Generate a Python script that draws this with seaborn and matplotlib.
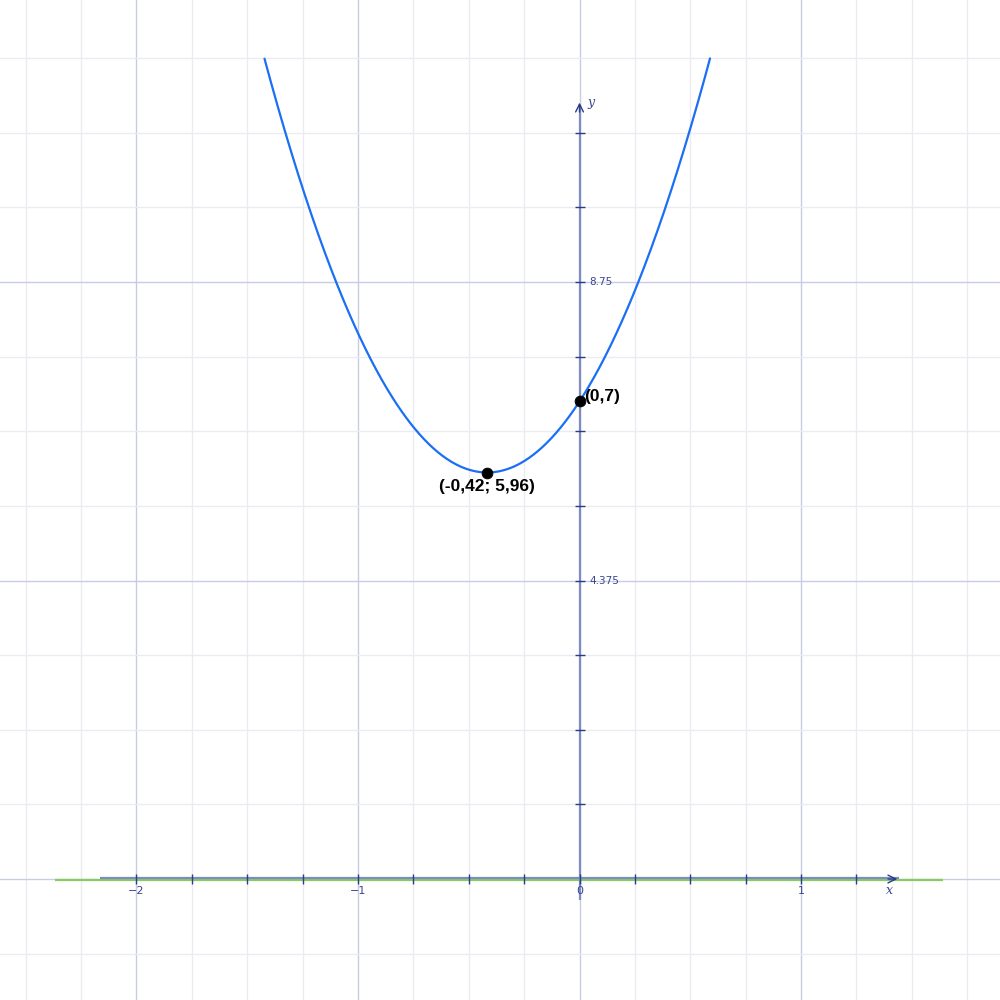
import numpy as np
import pandas as pd
import matplotlib
matplotlib.use("Agg")
import matplotlib.pyplot as plt
import matplotlib.transforms as mtrans
import seaborn as sns

# ---- data ----
coef_a, coef_b, coef_c = 6.0, 5.0, 7.0          # y = 6x^2 + 5x + 7
curve_x_range = [-1.422, 0.589]                   # visible part of the parabola
point_x = [-5/12, 0.0]
point_y = [5.958, 7.0]
point_labels = ["(-0,42; 5,96)", "(0,7)"]
green_x = [-2.368, 1.641]
green_y = [0.0, 0.0]
x_tick_vals = [-2, -1, 0, 1]
x_tick_labels = ["\u22122", "\u22121", "0", "1"]
y_tick_vals = [4.375, 8.75]
y_tick_labels = ["4.375", "8.75"]

xs = np.linspace(curve_x_range[0], curve_x_range[1], 400)
curve = pd.DataFrame({"x": xs, "y": coef_a * xs**2 + coef_b * xs + coef_c})

sns.set_theme(style="white")
fig = plt.figure(figsize=(10, 10), dpi=100)
ax = fig.add_axes([0, 0, 1, 1])
ax.set_xlim(-2.616, 1.898)
ax.set_ylim(-1.773, 12.883)
for s in ax.spines.values():
    s.set_visible(False)
ax.set_xticks([])
ax.set_yticks([])

minor_c = "#ebebf3"
major_c = "#c8cce3"
# grid
for xv in np.arange(-2.75, 2.0, 0.25):
    is_major = abs(xv - round(xv)) < 1e-9
    ax.axvline(xv, color=major_c if is_major else minor_c, lw=1, zorder=0)
ystep = 1.09375
for k in range(-2, 13):
    yv = k * ystep
    ax.axhline(yv, color=major_c if k % 4 == 0 else minor_c, lw=1, zorder=0)

axis_c = "#7d8cc0"
tick_c = "#2b3a8c"
label_c = "#3a4590"
# green line (slightly below axis)
off_down = mtrans.offset_copy(ax.transData, fig=fig, x=0, y=-1.0, units="dots")
ax.plot(green_x, green_y, color="#86cc62", lw=1.6, zorder=2, transform=off_down,
        solid_capstyle="butt")
# axes lines
off_up = mtrans.offset_copy(ax.transData, fig=fig, x=0, y=1.0, units="dots")
ax.plot([-2.165, 1.44], [0, 0], color=axis_c, lw=1.6, zorder=3, transform=off_up,
        solid_capstyle="butt")
ax.annotate("", xy=(1.447, 0), xytext=(1.38, 0),
            arrowprops=dict(arrowstyle="->", color=tick_c, lw=1.0, mutation_scale=14),
            zorder=4)
ax.plot([0, 0], [-0.31, 11.35], color=axis_c, lw=1.6, zorder=3, solid_capstyle="butt")
ax.annotate("", xy=(0, 11.42), xytext=(0, 11.2),
            arrowprops=dict(arrowstyle="->", color=tick_c, lw=1.0, mutation_scale=14),
            zorder=4)

# ticks
xt = np.arange(-2.0, 1.26, 0.25)
ax.plot(xt, np.zeros_like(xt), linestyle="none", marker="|", ms=6.5, mew=1.0,
        color=tick_c, zorder=4)
yt = np.arange(1, 11) * ystep
ax.plot(np.zeros_like(yt), yt, linestyle="none", marker="_", ms=6.5, mew=1.0,
        color=tick_c, zorder=4)

for v, lab in zip(x_tick_vals, x_tick_labels):
    ax.text(v, -0.1, lab, ha="center", va="top", fontsize=8, color=label_c,
            zorder=5)
for v, lab in zip(y_tick_vals, y_tick_labels):
    ax.text(0.045, v, lab, ha="left", va="center", fontsize=7.5, color=label_c,
            zorder=5)
ax.text(1.40, -0.07, "x", ha="center", va="top", fontsize=9, color=label_c,
        style="italic", family="DejaVu Serif", zorder=5)
ax.text(0.035, 11.38, "y", ha="left", va="center", fontsize=9, color=label_c,
        style="italic", family="DejaVu Serif", zorder=5)

# parabola
sns.lineplot(data=curve, x="x", y="y", color="#1a6ff5", lw=1.6, ax=ax, zorder=6,
             sort=False)
# points
sns.scatterplot(x=point_x, y=point_y, color="black", s=60, ax=ax, zorder=7,
                edgecolor="black")
ax.text(point_x[0], point_y[0] - 0.1, point_labels[0], ha="center", va="top",
        fontsize=12.5, fontweight="bold", family="Liberation Sans", color="black",
        zorder=8)
ax.text(point_x[1] + 0.02, point_y[1] + 0.07, point_labels[1], ha="left", va="center",
        fontsize=12.5, fontweight="bold", family="Liberation Sans", color="black",
        zorder=8)

ax.set_xlabel("")
ax.set_ylabel("")
ax.set_xlim(-2.616, 1.898)
ax.set_ylim(-1.773, 12.883)
fig.savefig("out.png", dpi=100)
